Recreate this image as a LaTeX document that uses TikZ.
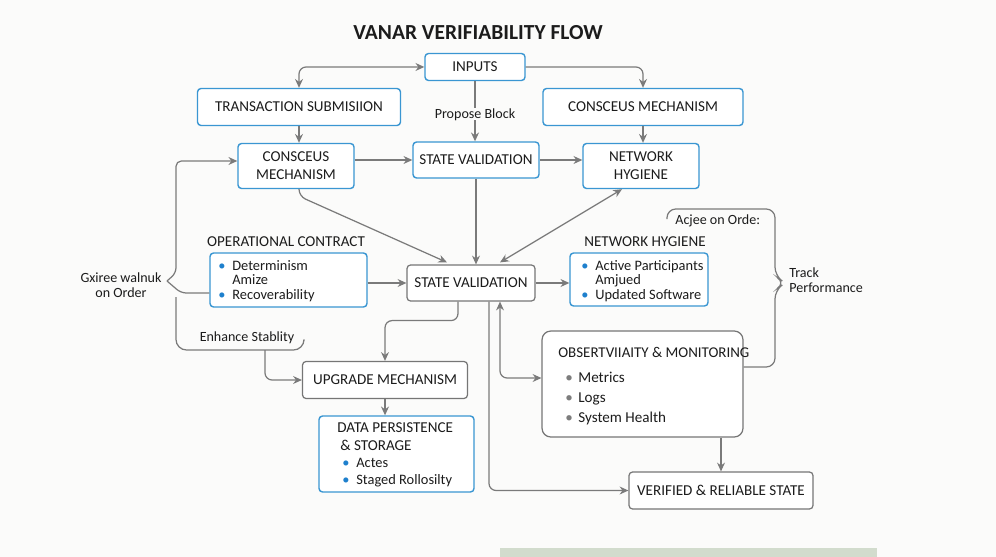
\documentclass[tikz,border=0pt]{standalone}
\usepackage{fontspec}
\setmainfont{Carlito}
\usetikzlibrary{arrows.meta,calc}

\definecolor{boxblue}{RGB}{58,150,210}
\definecolor{boxgray}{RGB}{118,118,118}
\definecolor{linegray}{RGB}{122,122,122}
\definecolor{dotblue}{RGB}{30,128,205}
\definecolor{dotgray}{RGB}{125,125,125}
\definecolor{inkdark}{RGB}{28,28,28}
\definecolor{pagebg}{RGB}{251,251,250}
\definecolor{sage}{RGB}{210,220,205}

\newcommand{\bdot}{\makebox[0.28cm][l]{\textcolor{dotblue}{\textbullet}}}
\newcommand{\gdot}{\makebox[0.26cm][l]{\textcolor{dotgray}{\textbullet}}}

\begin{document}
\begin{tikzpicture}[
  x=0.02cm, y=-0.02cm,
  font=\fontsize{8.6}{10.2}\selectfont, text=inkdark,
  >={Stealth[length=5pt, width=4.5pt]},
  bluebox/.style={draw=boxblue, line width=0.8pt, rounded corners=2pt, fill=white, inner sep=0pt, align=center},
  graybox/.style={draw=boxgray, line width=0.7pt, rounded corners=2pt, fill=white, inner sep=0pt, align=center},
  items/.style={anchor=west, align=left, inner sep=0pt, font=\fontsize{8.2}{8.3}\selectfont},
  flow/.style={draw=linegray, line width=0.7pt},
  tag/.style={inner sep=0pt, font=\fontsize{8}{8.6}\selectfont}
]
  \fill[pagebg] (0,0) rectangle (996,557);
  \useasboundingbox (0,0) rectangle (996,557);
  \fill[sage] (500,548) rectangle (877,557);

  \node[font=\fontsize{12.2}{14}\selectfont\bfseries] (title) at (478,33) {VANAR VERIFIABILITY FLOW};

  % top row
  \node[bluebox, minimum width=2cm, minimum height=0.54cm] (inputs) at (475,67) {INPUTS};
  \node[bluebox, minimum width=4.06cm, minimum height=0.74cm] (txsub) at (299,107) {TRANSACTION SUBMISIION};
  \node[bluebox, minimum width=4cm, minimum height=0.74cm] (consR) at (643,107) {CONSCEUS MECHANISM};
  \node[bluebox, minimum width=2.32cm, minimum height=0.9cm] (consL) at (296,166) {CONSCEUS\\MECHANISM};
  \node[bluebox, minimum width=2.52cm, minimum height=0.72cm] (svTop) at (476,160) {STATE VALIDATION};
  \node[bluebox, minimum width=2.32cm, minimum height=0.9cm] (netTop) at (641,166) {NETWORK\\HYGIENE};

  % middle row
  \node[graybox, minimum width=2.56cm, minimum height=0.72cm] (svMid) at (471,283) {STATE VALIDATION};
  \node (opcHead) at (286,242) {OPERATIONAL CONTRACT};
  \node[bluebox, minimum width=3.14cm, minimum height=1.08cm] (opc) at (288.5,280) {};
  \node[items] (opcItems) at (218,281) {\bdot Determinism\\\hspace*{0.28cm}Amize\\\bdot Recoverability};
  \node (netHead) at (645,242) {NETWORK HYGIENE};
  \node[bluebox, minimum width=2.76cm, minimum height=1.06cm] (net) at (639,279.5) {};
  \node[items] (netItems) at (581,281) {\bdot Active Participants\\\hspace*{0.28cm}Amjued\\\bdot Updated Software};

  % lower part
  \node[graybox, minimum width=3.3cm, minimum height=0.74cm] (upg) at (385,380) {UPGRADE MECHANISM};
  \node[bluebox, minimum width=3.1cm, minimum height=1.52cm] (data) at (396.5,454) {};
  \node[items, font=\fontsize{8.6}{9.8}\selectfont] (dataItems) at (337,455) {DATA PERSISTENCE\\\hspace*{0.06cm}\& STORAGE\\\hspace*{0.1cm}{\fontsize{8.2}{9.8}\selectfont\bdot Actes}\\\hspace*{0.1cm}{\fontsize{8.2}{9.8}\selectfont\bdot Staged Rollosilty}};
  \node[graybox, rounded corners=5pt, minimum width=4.02cm, minimum height=2.12cm] (obs) at (642.5,384) {};
  \node[items, font=\fontsize{8.6}{11.4}\selectfont] (obsItems) at (558,386) {{\fontsize{8.5}{11.4}\selectfont OBSERTVIIAITY \& MONITORING}\\[2.8pt]\hspace*{0.14cm}\gdot Metrics\\\hspace*{0.14cm}\gdot Logs\\\hspace*{0.14cm}\gdot System Health};
  \node[graybox, minimum width=3.68cm, minimum height=0.74cm] (ver) at (721,490.5) {VERIFIED \& RELIABLE STATE};

  % side notes
  \node[tag, align=center] (order) at (121,285) {Gxiree walnuk\\on Order};
  \node[tag] (stab) at (247,338) {Enhance Stablity};
  \node[tag, anchor=west] (agree) at (675,221) {Acjee on Orde:};
  \node[tag, anchor=west, align=left] (track) at (789,280) {Track\\Performance};

  % connectors
  \draw[flow, <->, rounded corners=4pt] (inputs.west) -| (txsub.north);
  \draw[flow, ->, rounded corners=4pt] (inputs.east) -| (consR.north);
  \draw[flow, ->] (inputs.south) -- node[pos=0.55, fill=pagebg, inner sep=1.5pt, tag] (propose) {Propose Block} (inputs.south |- svTop.north);
  \draw[flow, ->] (txsub.south) -- (txsub.south |- consL.north);
  \draw[flow, ->] (svTop.west -| consL.east) -- (svTop.west);
  \draw[flow, ->] (svTop.east) -- (svTop.east -| netTop.west);
  \draw[flow, ->] (consR.south) -- (consR.south |- netTop.north);
  \draw[flow, ->, rounded corners=4pt] ($(consL.south)+(3,0)$) -- ++(0,7) -- ($(svMid.north)+(-24,-2)$);
  \draw[flow, ->] (svTop.south) -- (svTop.south |- svMid.north);
  \draw[flow, <->] ($(netTop.south)+(-19,0)$) -- ($(svMid.north)+(29,-2)$);
  \draw[flow, ->] (opc.east |- svMid.west) -- (svMid.west);
  \draw[flow, ->] (svMid.east) -- (svMid.east -| net.west);
  \draw[flow, ->, rounded corners=4pt] ($(svMid.south)+(-13,0)$) -- ++(0,19) -| (upg.north);
  \draw[flow, ->] (upg.south) -- (upg.south |- data.north);
  \draw[flow, <->, rounded corners=4pt] ($(svMid.south)+(29,0)$) |- ($(obs.west)+(0,-6)$);
  \draw[flow, ->, rounded corners=4pt] ($(svMid.south)+(18,0)$) |- (ver.west);
  \draw[flow, ->] (ver.north |- obs.south) -- (ver.north);

  % left brace
  \coordinate (ltip) at (167,281);
  \draw[flow, ->, rounded corners=3pt] (ltip) -- (176,273) -- (176,161) -- ($(consL.west)+(0,-5)$);
  \draw[flow, rounded corners=3pt] (ltip) -- (181,293) -- ($(opc.west)+(0,13)$);
  \draw[flow, rounded corners=6pt] (176,297) -- (176,350) -- (304,350) -- (304,341);
  \draw[flow, ->, rounded corners=4pt] (265,350) -- (265,380) -- (upg.west);

  % right brace
  \draw[flow, rounded corners=5pt] (667,219) -- (667,209) -- (775,209) -- (775,276) -- (785,283) -- (775,290) -- (775,367) -- ($(obs.east)+(0,-17)$);
\end{tikzpicture}
\end{document}
